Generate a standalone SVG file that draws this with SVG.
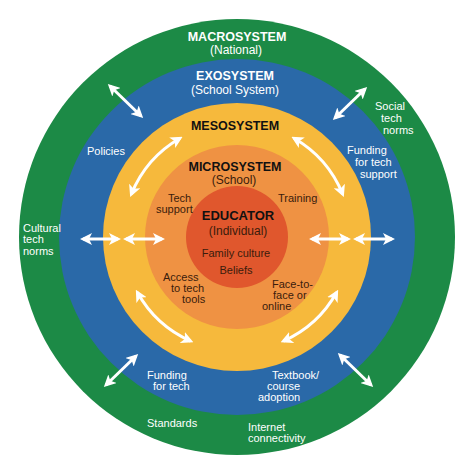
<svg xmlns="http://www.w3.org/2000/svg" width="474" height="474" viewBox="0 0 474 474">
<defs>
<marker id="ah" viewBox="0 0 12 12" markerWidth="12" markerHeight="12" refX="9" refY="6" markerUnits="userSpaceOnUse" orient="auto-start-reverse">
<path d="M0,0 L12,6 L0,12 L3,6 z" fill="#ffffff"/>
</marker>
<style>
.t{font-family:"Liberation Sans",Arial,sans-serif;}
.h{font-weight:bold;font-size:12.5px;text-anchor:middle;}
.s{font-size:12px;text-anchor:middle;}
.l{font-size:11px;}
.w{fill:#ffffff;}
.d{fill:#111111;}
.b{fill:#3a1c0c;}
.arr{fill:none;stroke:#ffffff;stroke-width:3;marker-start:url(#ah);marker-end:url(#ah);}
</style>
</defs>
<rect width="474" height="474" fill="#ffffff"/>
<g id="macrosystem" class="t">
<circle cx="237" cy="237" r="218" fill="#1c8a46"/>
</g>
<g id="exosystem" class="t">
<circle cx="237" cy="237" r="178" fill="#2a69a8"/>
</g>
<g id="mesosystem" class="t">
<circle cx="237" cy="237" r="134" fill="#f6b93c"/>
</g>
<g id="microsystem" class="t">
<circle cx="237" cy="237" r="92" fill="#ef9243"/>
</g>
<g id="educator" class="t">
<circle cx="237" cy="237" r="51" fill="#e0572d"/>
</g>
<g id="connectors">
<line class="arr" x1="83" y1="239" x2="118" y2="239"/>
<line class="arr" x1="126" y1="239" x2="162" y2="239"/>
<line class="arr" x1="312" y1="239" x2="348" y2="239"/>
<line class="arr" x1="356" y1="239" x2="392" y2="239"/>
<line class="arr" x1="110" y1="86" x2="141" y2="116"/>
<line class="arr" x1="365" y1="89" x2="335" y2="118"/>
<line class="arr" x1="136" y1="356" x2="106" y2="385"/>
<line class="arr" x1="340" y1="355" x2="371" y2="385"/>
<path class="arr" d="M131.3,194.3 A114,114 0 0 1 180,138.3"/>
<path class="arr" d="M294,138.3 A114,114 0 0 1 342.7,194.3"/>
<path class="arr" d="M336.7,292.3 A114,114 0 0 1 283.4,341.1"/>
<path class="arr" d="M190.6,341.1 A114,114 0 0 1 137.3,292.3"/>
</g>
<g id="labels-macro" class="t">
<text class="h w" x="237" y="41">MACROSYSTEM</text>
<text class="s w" x="236" y="54">(National)</text>
<text class="l w" x="375" y="110">Social</text>
<text class="l w" x="381" y="122">tech</text>
<text class="l w" x="383" y="134">norms</text>
<text class="l w" x="23" y="232">Cultural</text>
<text class="l w" x="23" y="243">tech</text>
<text class="l w" x="23" y="255">norms</text>
<text class="l w" x="147" y="427">Standards</text>
<text class="l w" x="248" y="431">Internet</text>
<text class="l w" x="248" y="442">connectivity</text>
</g>
<g id="labels-exo" class="t">
<text class="h w" x="235" y="80">EXOSYSTEM</text>
<text class="s w" x="235" y="94">(School System)</text>
<text class="l w" x="87" y="155">Policies</text>
<text class="l w" x="347" y="154">Funding</text>
<text class="l w" x="355" y="166">for tech</text>
<text class="l w" x="360" y="178">support</text>
<text class="l w" x="147" y="379">Funding</text>
<text class="l w" x="153" y="390">for tech</text>
<text class="l w" x="272" y="379">Textbook/</text>
<text class="l w" x="267" y="390">course</text>
<text class="l w" x="258" y="401">adoption</text>
</g>
<g id="labels-meso" class="t">
<text class="h d" x="235" y="130">MESOSYSTEM</text>
</g>
<g id="labels-micro" class="t">
<text class="h d" x="235" y="171">MICROSYSTEM</text>
<text class="s b" x="234" y="184">(School)</text>
<text class="l b" x="168" y="202">Tech</text>
<text class="l b" x="156" y="213">support</text>
<text class="l b" x="278" y="202">Training</text>
<text class="l b" x="163" y="281">Access</text>
<text class="l b" x="171" y="292">to tech</text>
<text class="l b" x="182" y="303">tools</text>
<text class="l b" x="272" y="288">Face-to-</text>
<text class="l b" x="273" y="299">face or</text>
<text class="l b" x="262" y="310">online</text>
</g>
<g id="labels-educator" class="t">
<text class="h d" x="238" y="220" style="font-size:13px">EDUCATOR</text>
<text class="s b" x="238" y="235">(Individual)</text>
<text class="l b" x="236" y="257" text-anchor="middle">Family culture</text>
<text class="l b" x="236" y="274" text-anchor="middle">Beliefs</text>
</g>
</svg>
